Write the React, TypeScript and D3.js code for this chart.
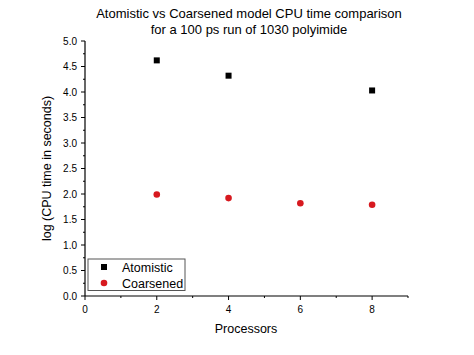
import React from "react";
import * as d3 from "d3";

const procAtomistic = [2, 4, 8];
const logAtomistic = [4.62, 4.32, 4.03];
const procCoarsened = [2, 4, 6, 8];
const logCoarsened = [1.99, 1.92, 1.82, 1.79];
const xTicks = [0, 2, 4, 6, 8];
const xMinor = [1, 3, 5, 7, 9];
const yTicks = [0, 0.5, 1, 1.5, 2, 2.5, 3, 3.5, 4, 4.5, 5];
const yMinor = [0.25, 0.75, 1.25, 1.75, 2.25, 2.75, 3.25, 3.75, 4.25, 4.75];
const titleLines = [
  "Atomistic vs Coarsened model CPU time comparison",
  "for a 100 ps run of 1030 polyimide",
];
const legendLabels = ["Atomistic", "Coarsened"];

const W = 474;
const H = 355;
const FONT = "'Liberation Sans', Arial, sans-serif";
const RED = "#d7191f";

export default function App() {
  const x = d3.scaleLinear().domain([0, 9]).range([85, 408]);
  const y = d3.scaleLinear().domain([0, 5]).range([296, 41]);
  const x0 = x(0);
  const y0 = y(0);
  return (
    <svg
      width={W}
      height={H}
      style={{ position: "absolute", left: 0, top: 0, background: "#fff" }}
      fontFamily={FONT}
    >
      <rect width={W} height={H} fill="#fff" />
      {titleLines.map((t, i) => (
        <text key={t} x={249} y={18 + i * 15.5} fontSize={13} textAnchor="middle" fill="#000">
          {t}
        </text>
      ))}
      {/* axes */}
      <line x1={x0} x2={x0} y1={y(5)} y2={y0} stroke="#000" strokeWidth={1.2} />
      <line x1={x0} x2={x(9)} y1={y0} y2={y0} stroke="#000" strokeWidth={1.2} />
      {yTicks.map((t) => (
        <g key={"y" + t}>
          <line x1={x0 - 4} x2={x0} y1={y(t)} y2={y(t)} stroke="#000" strokeWidth={1} />
          <text x={x0 - 8} y={y(t) + 3.5} fontSize={10} textAnchor="end" fill="#000">
            {t.toFixed(1)}
          </text>
        </g>
      ))}
      {yMinor.map((t) => (
        <line key={"ym" + t} x1={x0 - 2} x2={x0} y1={y(t)} y2={y(t)} stroke="#000" strokeWidth={1} />
      ))}
      {xTicks.map((t) => (
        <g key={"x" + t}>
          <line x1={x(t)} x2={x(t)} y1={y0} y2={y0 + 4} stroke="#000" strokeWidth={1} />
          <text x={x(t)} y={y0 + 17} fontSize={10} textAnchor="middle" fill="#000">
            {t}
          </text>
        </g>
      ))}
      {xMinor.map((t) => (
        <line key={"xm" + t} x1={x(t)} x2={x(t)} y1={y0} y2={y0 + 2} stroke="#000" strokeWidth={1} />
      ))}
      <text x={246} y={333} fontSize={12.5} textAnchor="middle" fill="#000">
        Processors
      </text>
      <text
        transform={`translate(50.5,${(y(0) + y(5)) / 2}) rotate(-90)`}
        fontSize={12.5}
        textAnchor="middle"
        fill="#000"
      >
        log (CPU time in seconds)
      </text>
      {/* data */}
      {procAtomistic.map((p, i) => (
        <rect key={"a" + p} x={x(p) - 3} y={y(logAtomistic[i]) - 3} width={6} height={6} fill="#000" />
      ))}
      {procCoarsened.map((p, i) => (
        <circle key={"c" + p} cx={x(p)} cy={y(logCoarsened[i])} r={3.3} fill={RED} />
      ))}
      {/* legend */}
      <rect x={88} y={259} width={97} height={31.5} fill="#fff" stroke="#555" strokeWidth={1} />
      <rect x={101} y={264} width={6} height={6} fill="#000" />
      <circle cx={104} cy={283} r={3.3} fill={RED} />
      {legendLabels.map((l, i) => (
        <text key={l} x={122} y={271.5 + i * 16} fontSize={12.5} fill="#000">
          {l}
        </text>
      ))}
    </svg>
  );
}
